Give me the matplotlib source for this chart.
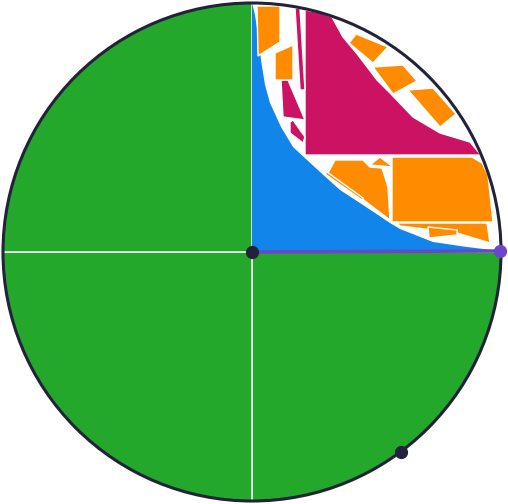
import matplotlib
matplotlib.use("Agg")
import matplotlib.pyplot as plt
from matplotlib.patches import Wedge, Polygon, Circle

# geometry (pixel coords, y down)
center = (252, 252)
radius = 249

# green quadrants (angles in data coords, y axis inverted)
green_quadrants = [(0, 90), (90, 180), (180, 270)]

# blue region boundary, from top of the radius to the right end
blue_curve = [(252, 3), (255, 15), (258, 35), (261, 60), (265, 85), (270, 103),
              (281, 127), (293, 147), (307, 160), (320, 172), (340, 190),
              (363, 205), (390, 223), (400, 229), (433, 242), (467, 247),
              (500, 251)]

magenta_pieces = [
    [(305, 10), (318, 12), (332, 17), (343, 37), (358, 55), (377, 80), (390, 93),
     (413, 117), (440, 133), (470, 142), (481, 155), (305, 155)],
    [(295, 8), (300, 8), (305, 90), (300, 90)],
    [(281, 80), (288, 80), (305, 120), (283, 117)],
    [(290, 122), (293, 120), (305, 137), (303, 143), (290, 133)],
]

orange_pieces = [
    [(257, 6), (280, 6), (280, 42), (258, 56)],
    [(275, 53), (293, 45), (293, 80), (275, 80)],
    [(349, 43), (356, 34), (388, 47), (373, 63)],
    [(373, 67), (403, 65), (417, 81), (393, 94)],
    [(408, 90), (433, 88), (456, 114), (440, 127)],
    [(335, 160), (363, 160), (370, 167), (382, 168), (388, 187), (390, 220), (328, 173)],
    [(325, 174), (327, 172), (363, 198), (362, 200)],
    [(370, 165), (380, 157), (393, 167)],
    [(392, 157), (472, 157), (482, 163), (488, 175), (493, 222), (392, 222)],
    [(397, 223), (487, 223), (490, 243), (457, 233), (400, 226)],
    [(428, 227), (457, 230), (457, 235), (429, 238)],
]

dark_points = [(252, 252), (401, 452)]
purple_point = (500, 251)

GREEN = "#23a82b"
BLUE = "#1185ea"
MAGENTA = "#cc1263"
ORANGE = "#ff8c00"
DARK = "#22223a"
PURPLE = "#6c45cc"

fig = plt.figure(figsize=(5.08, 5.04), dpi=100)
ax = fig.add_axes([0, 0, 1, 1])
ax.set_xlim(0, 508)
ax.set_ylim(504, 0)
ax.axis("off")

for t1, t2 in green_quadrants:
    ax.add_patch(Wedge(center, radius, t1, t2, facecolor=GREEN, edgecolor="white", lw=1))

ax.add_patch(Polygon([center] + blue_curve, closed=True, facecolor=BLUE, edgecolor="none"))

for pts in magenta_pieces:
    ax.add_patch(Polygon(pts, closed=True, facecolor=MAGENTA, edgecolor="white", lw=1))
for pts in orange_pieces:
    ax.add_patch(Polygon(pts, closed=True, facecolor=ORANGE, edgecolor="white", lw=1))

ax.add_patch(Circle(center, radius, fill=False, edgecolor=DARK, lw=2.2))

ax.plot([center[0], purple_point[0]], [center[1], purple_point[1]], color=PURPLE, lw=2.5,
        solid_capstyle="butt")
for px, py in dark_points:
    ax.plot(px, py, "o", color=DARK, markersize=8.5)
ax.plot(purple_point[0], purple_point[1], "o", color=PURPLE, markersize=8.5)

fig.savefig("out.png", dpi=100)
